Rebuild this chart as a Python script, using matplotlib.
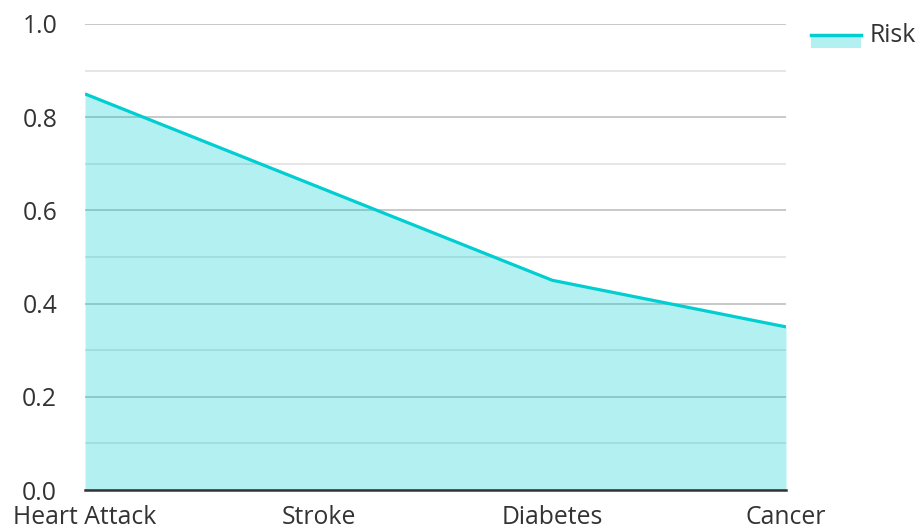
import matplotlib
matplotlib.use("Agg")
import matplotlib.pyplot as plt
from matplotlib.patches import Rectangle
from matplotlib.lines import Line2D
import numpy as np

categories = ["Heart Attack", "Stroke", "Diabetes", "Cancer"]
risk = [0.85, 0.65, 0.45, 0.35]
series_name = "Risk"

line_color = "#00CED1"

plt.rcParams["font.family"] = ["Open Sans", "DejaVu Sans"]

W, H = 919, 531
fig = plt.figure(figsize=(W / 100, H / 100), dpi=100)
ax = fig.add_axes([85 / W, 1 - 490 / H, (786 - 85) / W, (490 - 24) / H])

x = np.arange(len(categories))
ax.fill_between(x, risk, 0, color=line_color, alpha=0.3, linewidth=0, zorder=3)
ax.plot(x, risk, color=line_color, linewidth=2.3, zorder=4, solid_capstyle="butt")

ax.set_xlim(0, len(categories) - 1)
ax.set_ylim(0, 1.0)
ax.set_yticks(np.arange(0, 1.01, 0.2))
ax.set_yticks(np.arange(0.1, 1.0, 0.2), minor=True)
ax.set_yticklabels([f"{v:.1f}" for v in np.arange(0, 1.01, 0.2)])
ax.set_xticks(x)
ax.set_xticklabels(categories)

ax.grid(axis="y", which="major", color="#c8c8c8", linewidth=1.4, zorder=1)
ax.grid(axis="y", which="minor", color="#e6e6e6", linewidth=1.4, zorder=1)
ax.grid(axis="x", visible=False)

for s in ["left", "right", "top"]:
    ax.spines[s].set_visible(False)
ax.spines["bottom"].set_color("#333333")
ax.spines["bottom"].set_linewidth(1.8)
ax.spines["bottom"].set_zorder(5)

ax.tick_params(axis="both", which="both", length=0, labelsize=17.8, labelcolor="#333333")
ax.tick_params(axis="y", pad=20)
ax.tick_params(axis="x", pad=11)

# legend entry in the upper right
fig.add_artist(Rectangle((811 / W, 1 - 48 / H), 50 / W, 14 / H,
                         transform=fig.transFigure, facecolor=line_color,
                         alpha=0.3, edgecolor="none"))
fig.add_artist(Line2D([811 / W, 861 / W], [1 - 35 / H, 1 - 35 / H],
                      transform=fig.transFigure, color=line_color, linewidth=2.5))
fig.text(870 / W, 1 - 36 / H, series_name, fontsize=17.8, color="#333333",
         va="center", ha="left")

fig.savefig("out.png", dpi=100)
